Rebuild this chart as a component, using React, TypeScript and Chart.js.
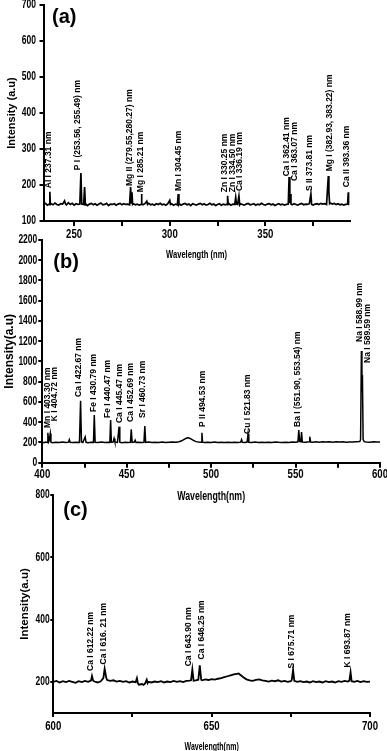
import React, { useEffect, useRef } from "react";
import { Chart, registerables } from "chart.js";
Chart.register(...registerables);

// ---------- DATA ----------
// Panel (a) spectrum: [wavelength nm, intensity a.u]
const spectrumA: [number, number][] = [
  [234,146],[235,149],[236,144],[237,147],[237.31,181],[237.6,146],[238,148],[239,145],[240,150],[241,146],
  [242,144],[243,148],[244,147],[245,156],[245.5,147],[246,145],[247,151],[248,146],[249,149],[250,144],
  [251,148],[252,146],[253,147],[253.56,233],[254,147],[255,146],[255.49,194],[255.9,145],[256,148],[257,143],
  [258,147],[259,149],[260,145],[261,148],[262,144],[263,147],[264,150],[265,145],[266,146],[267,149],
  [268,143],[269,147],[270,146],[271,148],[272,144],[273,147],[274,149],[275,145],[276,148],[277,146],
  [278,147],[279,145],[279.55,194],[279.9,150],[280.27,180],[280.6,146],[281,148],[282,145],[283,147],[284,144],
  [285,146],[285.21,175],[285.5,147],[286,145],[287,148],[288,155],[288.4,146],[289,149],[290,145],[291,147],
  [292,144],[293,148],[294,146],[295,149],[296,145],[297,147],[298,144],[299,148],[300,157],[300.4,146],
  [301,148],[302,144],[303,147],[304,145],[304.45,175],[304.8,146],[305,148],[306,144],[307,147],[308,149],
  [309,145],[310,147],[311,143],[312,148],[313,146],[314,144],[315,147],[316,149],[317,145],[318,148],
  [319,144],[320,146],[321,149],[322,145],[323,147],[324,143],[325,146],[326,148],[327,144],[328,147],
  [329,145],[330,147],[330.25,170],[330.6,146],[331,148],[332,144],[333,147],[334,146],[334.5,166],[334.9,147],
  [335.5,146],[336.19,169],[336.6,145],[337,148],[338,146],[339,144],[340,147],[341,149],[342,145],[343,146],
  [344,148],[345,144],[346,147],[347,145],[348,149],[349,146],[350,144],[351,147],[352,148],[353,145],
  [354,147],[355,143],[356,146],[357,148],[358,145],[359,147],[360,144],[361,146],[362,147],[362.41,222],
  [362.8,150],[363.07,175],[363.4,147],[364,145],[365,148],[366,146],[367,144],[368,147],[369,149],[370,145],
  [371,147],[372,146],[373,148],[373.81,175],[374.2,146],[375,144],[376,147],[377,148],[378,146],[379,149],
  [380,147],[381,148],[382,146],[382.93,225],[383.22,180],[383.6,148],[384,150],[385,147],[386,149],[387,146],
  [388,148],[389,145],[390,147],[391,144],[392,146],[393,147],[393.36,180],[393.7,146],[394,145],
];

// Panel (b) spectrum
const spectrumB: [number, number][] = [
  [400,202],[401,198],[402,204],[403,200],[403.3,295],[403.7,205],[404.0,215],[404.72,288],[405.1,203],[406,198],
  [408,203],[410,199],[412,204],[414,200],[415.5,203],[416,228],[416.5,202],[418,199],[420,203],[422,200],
  [422.67,612],[423.2,204],[424,199],[425.4,255],[425.9,202],[427,198],[429,203],[430.3,201],[430.79,471],[431.3,202],
  [433,199],[435,204],[437,200],[439,203],[440,201],[440.47,422],[440.9,203],[442,205],[442.5,240],[443,204],
  [444.5,200],[445.47,356],[445.9,202],[447,198],[449,203],[451,200],[452.2,202],[452.69,330],[453.2,201],[454.5,203],
  [455,222],[455.5,200],[457,203],[459,199],[460.2,202],[460.73,362],[461.2,200],[463,204],[465,199],[467,203],
  [469,200],[471,204],[473,199],[475,202],[477,205],[479,203],[481,208],[482.5,216],[484,230],[485.5,244],
  [486.5,246],[488,236],[489.5,220],[491,208],[492.5,204],[494,202],[494.53,296],[494.9,203],[496,199],[498,203],
  [500,200],[502,204],[504,199],[506,202],[508,200],[510,203],[512,199],[514,202],[516,200],[517.5,203],
  [518,228],[518.5,202],[520,200],[521.3,204],[521.83,283],[522.3,202],[524,199],[526,204],[528,200],[530,203],
  [532,199],[534,202],[536,200],[538,204],[540,201],[542,199],[544,203],[546,200],[548,204],[550,202],
  [551.4,206],[551.9,323],[552.4,210],[553.1,206],[553.54,303],[554,205],[556,202],[558,206],[558.4,257],[558.9,205],
  [560,203],[562,206],[564,202],[566,208],[568,204],[570,206],[572,203],[574,207],[576,204],[578,206],
  [580,203],[582,205],[584,204],[586,206],[588,208],[588.5,230],[588.99,1104],[589.3,700],[589.59,866],[590,230],
  [590.6,208],[592,205],[594,203],[596,206],[598,204],[600,205],
];

// Panel (c) spectrum
const spectrumC: [number, number][] = [
  [600,200],[601,203],[602,198],[603,202],[604,199],[605,203],[606,200],[607,197],[608,202],[609,199],
  [610,203],[611,200],[611.9,204],[612.22,219],[612.6,204],[613,201],[614,198],[615,202],[615.8,212],[616.21,242],
  [616.7,214],[617,206],[618,203],[619,205],[620,201],[621,203],[622,200],[623,202],[624,198],[625,201],
  [626,199],[626.4,212],[626.7,196],[627,191],[628,193],[628.5,190],[629,195],[629.5,207],[629.8,196],[630,200],
  [631,198],[632,201],[633,199],[634,202],[635,198],[636,201],[637,199],[638,203],[639,200],[640,202],
  [641,199],[642,203],[643,204],[643.5,205],[643.9,240],[644.3,204],[645,205],[645.8,207],[646.25,253],[646.7,207],
  [647,205],[648,208],[649,206],[650,209],[651,207],[652,210],[653,212],[654,215],[655,218],[656,221],
  [657,224],[658,226],[658.5,227],[659,223],[660,215],[661,208],[662,205],[663,203],[664,206],[665,208],
  [666,205],[667,203],[668,201],[669,204],[670,202],[671,205],[672,201],[673,203],[674,200],[675,202],
  [675.3,206],[675.71,238],[676.1,203],[677,200],[678,202],[679,199],[680,201],[681,198],[682,202],[683,199],
  [684,201],[685,198],[686,202],[687,199],[688,201],[689,198],[690,202],[691,200],[692,203],[693,201],
  [693.5,204],[693.87,231],[694.2,202],[695,200],[696,203],[697,199],[698,202],[699,200],[700,201],
];

// Line annotations: text, anchor wavelength, intensity at text start
type Note = { text: string; x: number; y: number };
const notesA: Note[] = [
  { text: "Al I 237.31 nm", x: 236.6, y: 191 },
  { text: "P I (253.56, 255.49) nm", x: 252, y: 241 },
  { text: "Mg II (279.55,280.27) nm", x: 278.8, y: 197 },
  { text: "Mg I 285.21 nm", x: 285, y: 180 },
  { text: "Mn I 304.45 nm", x: 304.9, y: 183 },
  { text: "Zn I 330.25 nm", x: 328.9, y: 180 },
  { text: "Zn I 334.50 nm", x: 333, y: 180 },
  { text: "Ca I 336.19 nm", x: 336.6, y: 183 },
  { text: "Ca I 362.41 nm", x: 361.1, y: 224 },
  { text: "Ca I 363.07 nm", x: 365.3, y: 211 },
  { text: "S II 373.81 nm", x: 373.1, y: 183 },
  { text: "Mg I (382.93, 383.22) nm", x: 383.5, y: 238 },
  { text: "Ca II 393.36 nm", x: 392.4, y: 194 },
];
const notesB: Note[] = [
  { text: "Mn I 403.30 nm", x: 403.4, y: 343 },
  { text: "K I 404.72 nm", x: 407.5, y: 410 },
  { text: "Ca I 422.67 nm", x: 421.7, y: 649 },
  { text: "Fe I 430.79 nm", x: 430.6, y: 501 },
  { text: "Fe I 440.47 nm", x: 438.9, y: 442 },
  { text: "Ca I 445.47 nm", x: 446, y: 392 },
  { text: "Ca I 452.69 nm", x: 452.5, y: 402 },
  { text: "Sr I 460.73 nm", x: 459.6, y: 442 },
  { text: "P II 494.53 nm", x: 495, y: 353 },
  { text: "Cu I 521.83 nm", x: 521.7, y: 284 },
  { text: "Ba I (551.90, 553.54) nm", x: 551.3, y: 353 },
  { text: "Na I 588.99 nm", x: 588, y: 1193 },
  { text: "Na I 589.59 nm", x: 592.7, y: 985 },
];
const notesC: Note[] = [
  { text: "Ca I 612.22 nm", x: 611.8, y: 235 },
  { text: "Ca I 616. 21 nm", x: 616.0, y: 256 },
  { text: "Ca I 643.90 nm", x: 642.8, y: 250 },
  { text: "Ca I 646.25 nm", x: 646.9, y: 272 },
  { text: "S I 675.71 nm", x: 675.3, y: 243 },
  { text: "K I 693.87 nm", x: 693.1, y: 246 },
];

// Axis ticks
const xTicksA = [250, 275, 300, 325, 350, 375];
const xLabelsA = [250, 300, 350];
const yTicksA = [100, 200, 300, 400, 500, 600, 700];
const xTicksB = [400, 425, 450, 475, 500, 525, 550, 575, 600];
const xLabelsB = [400, 450, 500, 550, 600];
const yTicksB = [0, 200, 400, 600, 800, 1000, 1200, 1400, 1600, 1800, 2000, 2200];
const xTicksC = [600, 625, 650, 675, 700];
const xLabelsC = [600, 650, 700];
const yTicksC = [200, 400, 600, 800];

// ---------- LAYOUT ----------
const W = 387;
const H = 751;
const SANS = "'Liberation Sans', Arial, sans-serif";

type Panel = {
  data: [number, number][];
  notes: Note[];
  xMin: number; xMax: number; yMin: number; yMax: number;
  xTicks: number[]; xLabels: number[]; yTicks: number[];
  area: { left: number; top: number; right: number; bottom: number };
  xAxisH: number;
  tickLen: number;
  yLabelGap: number; xLabelDy: number;
  yTitle: string; yTitleSize: number; yTitlePad: number;
  xTitle: string; xTitleSize: number; xTitleScale: number; xTitleDy: number;
  tag: string; tagDx: number; tagDy: number;
  lineW: number;
};

const panels: Panel[] = [
  {
    data: spectrumA, notes: notesA,
    xMin: 234, xMax: 394, yMin: 100, yMax: 700,
    xTicks: xTicksA, xLabels: xLabelsA, yTicks: yTicksA,
    area: { left: 43.5, top: 5, right: 349.5, bottom: 221 },
    xAxisH: 40, tickLen: 4, yLabelGap: 7.5, xLabelDy: 13,
    yTitle: "Intensity (a.u)", yTitleSize: 11, yTitlePad: 5.4,
    xTitle: "Wavelength (nm)", xTitleSize: 11.5, xTitleScale: 0.66, xTitleDy: 34,
    tag: "(a)", tagDx: 8.5, tagDy: 12, lineW: 1.7,
  },
  {
    data: spectrumB, notes: notesB,
    xMin: 400, xMax: 600, yMin: 0, yMax: 2200,
    xTicks: xTicksB, xLabels: xLabelsB, yTicks: yTicksB,
    area: { left: 42.3, top: 240, right: 380, bottom: 462.7 },
    xAxisH: 40, tickLen: 4, yLabelGap: 5, xLabelDy: 11.5,
    yTitle: "Intensity(a.u)", yTitleSize: 12, yTitlePad: 2.8,
    xTitle: "Wavelength(nm)", xTitleSize: 12, xTitleScale: 0.73, xTitleDy: 33.5,
    tag: "(b)", tagDx: 11, tagDy: 22, lineW: 1.5,
  },
  {
    data: spectrumC, notes: notesC,
    xMin: 600, xMax: 700, yMin: 100, yMax: 800,
    xTicks: xTicksC, xLabels: xLabelsC, yTicks: yTicksC,
    area: { left: 53.3, top: 495, right: 370, bottom: 713 },
    xAxisH: 38, tickLen: 3, yLabelGap: 3.5, xLabelDy: 13,
    yTitle: "Intensity(a.u)", yTitleSize: 11.5, yTitlePad: 18,
    xTitle: "Wavelength(nm)", xTitleSize: 10, xTitleScale: 0.7, xTitleDy: 34,
    tag: "(c)", tagDx: 10, tagDy: 15, lineW: 1.8,
  },
];

// draw horizontally condensed bold text
function condensed(ctx: any, text: string, x: number, y: number, size: number, sx: number, align: string) {
  ctx.save();
  ctx.translate(x, y);
  ctx.scale(sx, 1);
  ctx.font = `bold ${size}px ${SANS}`;
  ctx.textAlign = align;
  ctx.textBaseline = "middle";
  ctx.fillText(text, 0, 0);
  ctx.restore();
}

function makeConfig(p: Panel): any {
  const textPlugin = {
    id: "textPlugin",
    afterDraw(chart: any) {
      const { ctx, chartArea } = chart;
      const xs = chart.scales.x;
      const ys = chart.scales.y;
      ctx.save();
      ctx.fillStyle = "#000";
      // tick labels
      for (const v of p.xLabels) {
        condensed(ctx, String(v), xs.getPixelForValue(v), chartArea.bottom + p.xLabelDy, 13, 0.74, "center");
      }
      for (const v of p.yTicks) {
        condensed(ctx, String(v), chartArea.left - p.yLabelGap, ys.getPixelForValue(v), 12.5, 0.68, "right");
      }
      // x title
      condensed(ctx, p.xTitle, (chartArea.left + chartArea.right) / 2, chartArea.bottom + p.xTitleDy, p.xTitleSize, p.xTitleScale, "center");
      // line annotations
      ctx.font = `bold 8.5px ${SANS}`;
      ctx.textAlign = "left";
      ctx.textBaseline = "middle";
      for (const n of p.notes) {
        ctx.save();
        ctx.translate(xs.getPixelForValue(n.x), ys.getPixelForValue(n.y));
        ctx.rotate(-Math.PI / 2);
        ctx.fillText(n.text, 0, 0);
        ctx.restore();
      }
      // panel tag
      ctx.font = `bold 20px ${SANS}`;
      ctx.fillText(p.tag, chartArea.left + p.tagDx, chartArea.top + p.tagDy);
      ctx.restore();
    },
  };
  return {
    type: "line",
    data: {
      datasets: [
        {
          data: p.data.map(([x, y]) => ({ x, y })),
          borderColor: "#000",
          borderWidth: p.lineW,
          pointRadius: 0,
          tension: 0,
          fill: false,
        },
      ],
    },
    plugins: [textPlugin],
    options: {
      animation: false,
      responsive: false,
      devicePixelRatio: 1,
      layout: {
        padding: {
          left: 0,
          top: p.area.top,
          right: W - p.area.right,
          bottom: H - p.area.bottom - p.xAxisH,
        },
      },
      plugins: { legend: { display: false }, tooltip: { enabled: false }, title: { display: false } },
      scales: {
        x: {
          type: "linear",
          min: p.xMin,
          max: p.xMax,
          border: { display: true, color: "#000", width: 2 },
          grid: { drawOnChartArea: false, drawTicks: true, tickLength: p.tickLen + 1, color: "#000", lineWidth: 2 },
          ticks: { display: false },
          afterBuildTicks: (s: any) => {
            s.ticks = p.xTicks.map((v) => ({ value: v }));
          },
          afterFit: (s: any) => {
            s.height = p.xAxisH;
            s.paddingLeft = 0;
            s.paddingRight = 0;
          },
          title: { display: false },
        },
        y: {
          type: "linear",
          min: p.yMin,
          max: p.yMax,
          border: { display: true, color: "#000", width: 2 },
          grid: { drawOnChartArea: false, drawTicks: true, tickLength: p.tickLen, color: "#000", lineWidth: 2 },
          ticks: { display: false },
          afterBuildTicks: (s: any) => {
            s.ticks = p.yTicks.map((v) => ({ value: v }));
          },
          afterFit: (s: any) => {
            s.width = p.area.left;
            s.paddingTop = 0;
            s.paddingBottom = 0;
          },
          title: {
            display: true,
            text: p.yTitle,
            color: "#000",
            font: { family: SANS, size: p.yTitleSize, weight: "bold", lineHeight: 1.2 },
            padding: { top: p.yTitlePad, bottom: 0 },
          },
        },
      },
    },
  };
}

function PanelChart({ p }: { p: Panel }) {
  const ref = useRef<HTMLCanvasElement | null>(null);
  useEffect(() => {
    if (!ref.current) return;
    const chart = new Chart(ref.current, makeConfig(p));
    return () => chart.destroy();
  }, [p]);
  return (
    <canvas
      ref={ref}
      width={W}
      height={H}
      style={{ position: "absolute", left: 0, top: 0, width: W, height: H }}
    />
  );
}

export default function App() {
  return (
    <div style={{ position: "absolute", left: 0, top: 0, width: W, height: H, background: "#fff" }}>
      {panels.map((p, i) => (
        <PanelChart key={i} p={p} />
      ))}
    </div>
  );
}
